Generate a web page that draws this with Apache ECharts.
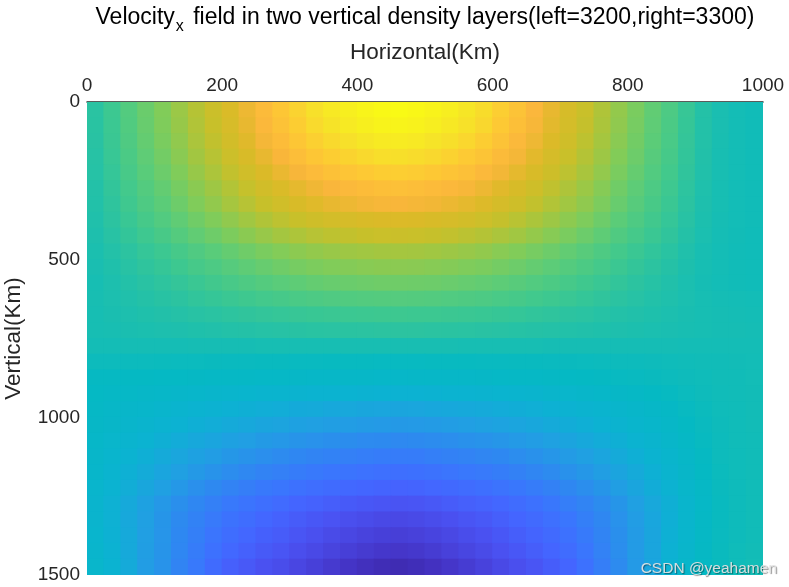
<!DOCTYPE html>
<html><head><meta charset="utf-8">
<script src="https://cdn.jsdelivr.net/npm/echarts@6/dist/echarts.min.js"></script>
<style>html,body{margin:0;padding:0;background:#fff}#c{width:789px;height:587px}</style>
</head><body><div id="c"></div>
<script>
// cell centres (km): 40 columns x 30 rows
const xCenters = [12.5,37.5,62.5,87.5,112.5,137.5,162.5,187.5,212.5,237.5,262.5,287.5,312.5,337.5,362.5,387.5,412.5,437.5,462.5,487.5,512.5,537.5,562.5,587.5,612.5,637.5,662.5,687.5,712.5,737.5,762.5,787.5,812.5,837.5,862.5,887.5,912.5,937.5,962.5,987.5];
const yCenters = [25,75,125,175,225,275,325,375,425,475,525,575,625,675,725,775,825,875,925,975,1025,1075,1125,1175,1225,1275,1325,1375,1425,1475];
const xTicks = [0,200,400,600,800,1000];
const yTicks = [0,500,1000,1500];
// normalised velocity_x (colour position 0..1), one row per depth
const r00 = [.517,.549,.586,.620,.652,.686,.723,.757,.794,.828,.863,.892,.918,.942,.960,.973,.985,.994,.997,.992,.982,.971,.955,.936,.910,.884,.852,.820,.786,.752,.715,.676,.641,.607,.575,.539,.507,.488,.478,.473];
const r01 = [.516,.547,.583,.617,.648,.681,.717,.751,.787,.820,.854,.882,.908,.931,.949,.962,.974,.982,.985,.980,.971,.959,.944,.926,.900,.874,.843,.812,.779,.746,.709,.671,.637,.604,.573,.537,.506,.488,.478,.473];
const r02 = [.515,.544,.579,.611,.641,.673,.708,.740,.774,.807,.839,.866,.891,.913,.930,.943,.954,.963,.965,.960,.951,.940,.925,.908,.883,.859,.829,.799,.767,.735,.700,.663,.631,.599,.569,.534,.505,.487,.477,.472];
const r03 = [.512,.541,.573,.604,.632,.663,.696,.726,.759,.790,.820,.846,.870,.891,.907,.919,.930,.938,.940,.935,.927,.917,.902,.886,.862,.839,.811,.783,.752,.721,.689,.653,.623,.592,.564,.531,.503,.486,.477,.472];
const r04 = [.510,.536,.567,.595,.622,.650,.681,.710,.741,.769,.798,.822,.844,.864,.879,.890,.900,.908,.910,.906,.898,.888,.875,.859,.837,.815,.789,.763,.734,.705,.675,.642,.613,.584,.558,.527,.501,.485,.477,.472];
const r05 = [.506,.531,.559,.585,.610,.636,.664,.691,.719,.745,.772,.794,.814,.832,.847,.857,.866,.873,.875,.871,.864,.855,.843,.828,.808,.788,.764,.739,.713,.687,.658,.628,.602,.575,.551,.523,.498,.484,.476,.472];
const r06 = [.504,.526,.553,.577,.599,.624,.650,.674,.701,.725,.749,.770,.789,.806,.819,.828,.837,.843,.845,.841,.835,.826,.815,.802,.783,.764,.742,.719,.695,.671,.644,.616,.592,.568,.545,.519,.496,.483,.476,.472];
const r07 = [.500,.520,.543,.564,.584,.605,.628,.650,.673,.694,.716,.734,.751,.765,.777,.785,.793,.798,.800,.797,.791,.784,.774,.762,.746,.729,.709,.689,.668,.647,.623,.599,.577,.556,.536,.513,.493,.482,.475,.472];
const r08 = [.496,.513,.533,.551,.568,.587,.607,.625,.645,.664,.682,.698,.712,.725,.735,.742,.749,.754,.755,.752,.747,.741,.732,.722,.708,.694,.677,.660,.641,.622,.603,.581,.563,.544,.527,.507,.490,.480,.474,.471];
const r09 = [.491,.505,.521,.536,.549,.564,.580,.595,.611,.626,.641,.654,.666,.676,.684,.690,.695,.699,.700,.698,.694,.689,.682,.674,.662,.651,.637,.623,.608,.593,.577,.560,.545,.530,.516,.500,.486,.478,.473,.471];
const r10 = [.488,.499,.513,.526,.537,.550,.564,.576,.590,.603,.615,.626,.636,.645,.651,.656,.661,.664,.665,.663,.660,.655,.649,.643,.633,.623,.611,.600,.587,.574,.561,.546,.533,.521,.509,.495,.484,.477,.473,.471];
const r11 = [.484,.494,.505,.515,.524,.534,.545,.556,.567,.577,.587,.596,.603,.611,.616,.620,.624,.626,.627,.625,.623,.619,.614,.609,.601,.593,.584,.574,.564,.554,.543,.531,.521,.511,.501,.490,.481,.475,.472,.471];
const r12 = [.485,.492,.500,.507,.514,.521,.529,.537,.544,.552,.559,.565,.571,.576,.580,.583,.586,.587,.588,.587,.585,.582,.579,.575,.569,.564,.557,.550,.543,.535,.528,.519,.512,.504,.498,.490,.483,.479,.477,.476];
const r13 = [.484,.489,.494,.499,.503,.508,.513,.517,.522,.527,.532,.536,.539,.542,.545,.547,.548,.550,.550,.549,.548,.546,.544,.542,.538,.535,.530,.526,.521,.517,.511,.506,.501,.497,.492,.487,.483,.481,.479,.478];
const r14 = [.484,.486,.489,.491,.494,.496,.499,.502,.505,.507,.510,.512,.514,.516,.517,.518,.519,.520,.520,.520,.519,.518,.517,.515,.513,.511,.509,.507,.504,.501,.499,.496,.493,.490,.488,.485,.483,.481,.481,.480];
const r15 = [.478,.478,.479,.479,.480,.480,.481,.481,.482,.482,.483,.483,.484,.484,.484,.485,.485,.485,.485,.485,.485,.485,.484,.484,.484,.483,.483,.482,.482,.481,.481,.480,.480,.479,.479,.478,.478,.477,.477,.477];
const r16 = [.464,.464,.463,.463,.462,.461,.461,.460,.459,.459,.458,.458,.457,.457,.456,.456,.456,.455,.455,.455,.456,.456,.456,.457,.457,.458,.458,.459,.460,.461,.463,.464,.465,.467,.468,.470,.472,.473,.474,.475];
const r17 = [.452,.452,.450,.450,.448,.447,.446,.445,.443,.443,.441,.441,.439,.438,.437,.437,.436,.435,.435,.436,.436,.437,.438,.439,.440,.442,.443,.446,.447,.450,.452,.455,.457,.460,.463,.467,.469,.472,.473,.475];
const r18 = [.448,.445,.441,.438,.434,.430,.427,.424,.420,.418,.414,.413,.409,.408,.405,.404,.402,.401,.400,.401,.402,.405,.407,.409,.411,.415,.417,.422,.425,.430,.434,.439,.444,.449,.454,.461,.466,.470,.472,.474];
const r19 = [.443,.438,.431,.426,.419,.414,.408,.403,.397,.393,.388,.385,.379,.377,.373,.371,.368,.366,.365,.366,.369,.372,.375,.378,.382,.387,.391,.398,.403,.409,.415,.423,.430,.438,.445,.455,.462,.469,.471,.474];
const r20 = [.439,.432,.423,.416,.407,.399,.392,.385,.377,.372,.365,.361,.354,.350,.346,.343,.339,.336,.335,.337,.340,.344,.348,.352,.357,.363,.369,.377,.384,.392,.400,.409,.419,.428,.438,.450,.459,.467,.471,.474];
const r21 = [.435,.425,.414,.404,.393,.382,.373,.364,.354,.347,.338,.333,.324,.319,.314,.309,.305,.302,.300,.302,.306,.311,.317,.321,.328,.336,.343,.353,.362,.372,.382,.393,.405,.417,.429,.444,.456,.465,.470,.473];
const r22 = [.430,.418,.404,.392,.378,.366,.354,.343,.331,.322,.312,.305,.294,.288,.282,.276,.271,.267,.265,.267,.273,.279,.285,.291,.298,.308,.317,.329,.339,.351,.363,.377,.392,.406,.420,.438,.452,.464,.469,.473];
const r23 = [.426,.411,.395,.380,.364,.349,.335,.322,.308,.297,.285,.277,.265,.257,.250,.243,.237,.232,.230,.233,.239,.246,.254,.260,.269,.280,.291,.304,.317,.331,.345,.362,.378,.395,.412,.432,.449,.462,.468,.473];
const r24 = [.421,.404,.386,.368,.350,.332,.316,.301,.285,.272,.259,.249,.235,.226,.218,.210,.203,.197,.195,.198,.205,.213,.222,.229,.240,.253,.265,.280,.295,.311,.327,.346,.365,.384,.403,.426,.445,.460,.467,.472];
const r25 = [.416,.396,.375,.354,.333,.313,.294,.277,.258,.244,.228,.217,.201,.191,.181,.172,.164,.158,.155,.159,.167,.176,.186,.194,.206,.221,.235,.253,.270,.288,.306,.327,.349,.371,.393,.419,.441,.458,.466,.472];
const r26 = [.416,.396,.373,.349,.327,.303,.282,.260,.239,.223,.206,.193,.176,.164,.152,.141,.131,.123,.120,.125,.134,.145,.158,.169,.183,.199,.214,.232,.251,.273,.295,.319,.343,.367,.392,.419,.442,.458,.467,.472];
const r27 = [.418,.398,.374,.347,.325,.298,.274,.247,.223,.206,.188,.175,.157,.143,.128,.115,.103,.093,.090,.096,.106,.119,.134,.148,.164,.181,.197,.216,.235,.261,.288,.314,.340,.365,.394,.421,.443,.459,.467,.473];
const r28 = [.421,.401,.376,.346,.324,.294,.267,.235,.208,.190,.171,.157,.138,.122,.105,.089,.075,.064,.060,.067,.079,.095,.111,.128,.147,.164,.181,.201,.220,.251,.281,.310,.339,.365,.397,.424,.446,.460,.468,.474];
const r29 = [.425,.404,.378,.344,.322,.287,.257,.218,.187,.168,.148,.133,.113,.093,.073,.054,.038,.025,.020,.029,.042,.061,.080,.101,.123,.141,.159,.180,.200,.236,.272,.304,.336,.364,.400,.428,.448,.460,.469,.475];
const rows = [r00,r01,r02,r03,r04,r05,r06,r07,r08,r09,r10,r11,r12,r13,r14,r15,r16,r17,r18,r19,r20,r21,r22,r23,r24,r25,r26,r27,r28,r29];
const parula = ['#3b27a8','#4433c4','#4842dc','#4a52f2','#4465ff','#3a76fd','#2e89f0','#20a0e2','#0cb2d2','#05b9c3','#20c0ab','#3dc890','#5ccc78','#80cc5a','#a5c63f','#c8c02a','#dcba28','#fbb63c','#fdc934','#f6e428','#f9fb14'];

const data = [];
rows.forEach((row, j) => row.forEach((v, i) => data.push([i, j, v])));

const FONT = "'Liberation Sans', Arial, Helvetica, sans-serif";
const chart = echarts.init(document.getElementById('c'), null, {renderer: 'canvas'});
chart.setOption({
  backgroundColor: '#ffffff',
  animation: false,
  title: {
    text: '{n|Velocity}{s|x}{n| field in two vertical density layers(left=3200,right=3300)}',
    left: 420, top: 1, textAlign: 'center',
    textStyle: {
      rich: {
        n: {fontFamily: FONT, fontSize: 23, fontWeight: 'normal', color: '#000', verticalAlign: 'top', lineHeight: 26},
        s: {fontFamily: FONT, fontSize: 16, fontWeight: 'normal', color: '#000', verticalAlign: 'top', lineHeight: 26, padding: [13, 3, 0, 1]}
      }
    }
  },
  grid: {left: 87, right: 26, top: 102, bottom: 12, outerBoundsMode: 'none'},
  visualMap: {show: false, type: 'continuous', min: 0, max: 1, dimension: 2, seriesIndex: 0, inRange: {color: parula}},
  xAxis: [
    {type: 'category', data: xCenters, show: false, gridIndex: 0},
    {type: 'value', min: xTicks[0], max: xTicks[xTicks.length - 1], interval: 200, position: 'top', gridIndex: 0,
     name: 'Horizontal(Km)', nameLocation: 'middle', nameGap: 38,
     nameTextStyle: {fontFamily: FONT, fontSize: 22.5, color: '#262626'},
     axisLine: {show: true, onZero: false, lineStyle: {color: '#262626', width: 1.5}},
     axisTick: {show: false}, splitLine: {show: false},
     axisLabel: {fontFamily: FONT, fontSize: 19, color: '#262626', margin: 7, formatter: v => String(v)}}
  ],
  yAxis: [
    {type: 'category', data: yCenters, show: false, inverse: true, gridIndex: 0},
    {type: 'value', min: yTicks[0], max: yTicks[yTicks.length - 1], interval: 500, inverse: true, position: 'left', gridIndex: 0,
     name: 'Vertical(Km)', nameLocation: 'middle', nameGap: 62, nameRotate: 90,
     nameTextStyle: {fontFamily: FONT, fontSize: 22.5, color: '#262626'},
     axisLine: {show: false}, axisTick: {show: false}, splitLine: {show: false},
     axisLabel: {fontFamily: FONT, fontSize: 19, color: '#262626', margin: 7, padding: [5, 0, 0, 0], formatter: v => String(v)}}
  ],
  series: [{
    type: 'custom', xAxisIndex: 0, yAxisIndex: 0, data: data, clip: true,
    encode: {x: 0, y: 1},
    renderItem: function (params, api) {
      const c = api.coord([api.value(0), api.value(1)]);
      const s = api.size([1, 1]);
      return {
        type: 'rect',
        shape: {x: c[0] - s[0] / 2 - 0.5, y: c[1] - s[1] / 2 - 0.5, width: s[0] + 1, height: s[1] + 1},
        style: {fill: api.visual('color')}
      };
    },
    emphasis: {disabled: true}
  }],
  graphic: [{
    type: 'text', right: 12, bottom: 10, z: 100,
    style: {text: 'CSDN @yeahamen', font: "15.5px " + FONT, fill: 'rgba(225,225,225,0.95)',
            textShadowColor: 'rgba(0,0,0,0.45)', textShadowBlur: 1, textShadowOffsetX: 1, textShadowOffsetY: 1}
  }]
});
</script>
</body></html>
